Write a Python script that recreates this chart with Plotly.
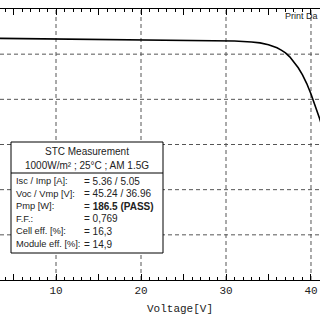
import plotly.graph_objects as go

# I-V curve
voltage = [3.41, 10.0, 16.0, 22.0, 28.0, 31.0, 33.0, 34.0, 35.0, 35.5, 36.0, 36.5, 37.0,
           37.5, 38.0, 38.5, 39.0, 39.5, 40.0, 40.5, 41.0, 41.5, 42.0, 43.0, 44.0, 45.24]
current = [5.35, 5.335, 5.32, 5.31, 5.30, 5.29, 5.27, 5.25, 5.21, 5.18, 5.14, 5.09, 5.03,
           4.94, 4.83, 4.70, 4.54, 4.35, 4.12, 3.86, 3.58, 3.28, 2.95, 2.2, 1.3, 0.0]

x_range = [3.41, 41.06]
y_range = [0, 6]
tick_vals = [5, 10, 15, 20, 25, 30, 35, 40]
tick_text = ["", "10", "", "20", "", "30", "", "40"]
grid_x = [10, 20, 30, 40]
grid_y = [1, 2, 3, 4, 5]

labels = ["Isc / Imp [A]:", "Voc / Vmp [V]:", "Pmp [W]:", "F.F.:", "Cell eff. [%]:", "Module eff. [%]:"]
values = ["= 5.36 / 5.05", "= 45.24 / 36.96", "= <b>186.5 (PASS)</b>", "= 0,769", "= 16,3", "= 14,9"]

H = 320
PT, PB = 9, 280


def py(pix):
    return (PB - pix) / (PB - PT)


fig = go.Figure()
fig.add_trace(go.Scatter(x=voltage, y=current, mode="lines",
                         line=dict(color="black", width=1.6), showlegend=False, hoverinfo="skip"))

mono = dict(family="Liberation Mono, Courier New, monospace", size=11, color="#222")
sans = "Liberation Sans, Arial, sans-serif"
GRID = "#555"

fig.update_layout(
    width=320, height=320,
    margin=dict(l=0, r=0, t=PT, b=H - PB, autoexpand=False),
    paper_bgcolor="white", plot_bgcolor="white",
    xaxis=dict(range=x_range, tickvals=tick_vals, ticktext=tick_text,
               ticks="inside", ticklen=6, tickcolor="black", tickwidth=1,
               showline=True, linecolor="black", linewidth=1, mirror="ticks",
               showgrid=False, zeroline=False, tickfont=mono, automargin=False,
               minor=dict(dtick=1, tick0=0, ticks="inside", ticklen=3, tickcolor="black",
                          showgrid=False)),
    yaxis=dict(range=y_range, showgrid=False, showticklabels=False, ticks="",
               showline=False, zeroline=False, automargin=False),
    showlegend=False,
)

for gx in grid_x:
    fig.add_vline(x=gx, line=dict(color=GRID, width=1, dash="4px,3px"), layer="below")
for gy in grid_y:
    fig.add_hline(y=gy, line=dict(color=GRID, width=1, dash="4px,3px"), layer="below")

# info box
fig.add_shape(type="rect", xref="paper", yref="paper", x0=11 / 320, x1=163 / 320,
              y0=py(253), y1=py(142), line=dict(color="black", width=1), fillcolor="white",
              layer="above")
fig.add_shape(type="line", xref="paper", yref="paper", x0=11 / 320, x1=163 / 320,
              y0=py(173), y1=py(173), line=dict(color="black", width=1), layer="above")

fig.add_annotation(xref="paper", yref="paper", x=87 / 320, y=py(151), text="STC Measurement",
                   showarrow=False, xanchor="center", yanchor="middle",
                   font=dict(family=sans, size=10, color="#222"))
fig.add_annotation(xref="paper", yref="paper", x=87 / 320, y=py(165),
                   text="1000W/m² ; 25°C ; AM 1.5G",
                   showarrow=False, xanchor="center", yanchor="middle",
                   font=dict(family=sans, size=10, color="#222"))
for i, (lab, val) in enumerate(zip(labels, values)):
    yp = py(181 + i * 12.6)
    fig.add_annotation(xref="paper", yref="paper", x=14 / 320, y=yp, text=lab,
                       showarrow=False, xanchor="left", yanchor="middle",
                       font=dict(family=sans, size=9.3, color="#222"))
    fig.add_annotation(xref="paper", yref="paper", x=82 / 320, y=yp, text=val,
                       showarrow=False, xanchor="left", yanchor="middle",
                       font=dict(family=sans, size=10, color="#222"))

fig.add_annotation(xref="paper", yref="paper", x=180 / 320, y=py(309), text="Voltage[V]",
                   showarrow=False, xanchor="center", yanchor="middle", font=mono)
fig.add_annotation(xref="paper", yref="paper", x=1.0, y=py(16), text="Print Da",
                   showarrow=False, xanchor="right", yanchor="middle",
                   font=dict(family=sans, size=9, color="#222"))

fig.write_html("out.html")
